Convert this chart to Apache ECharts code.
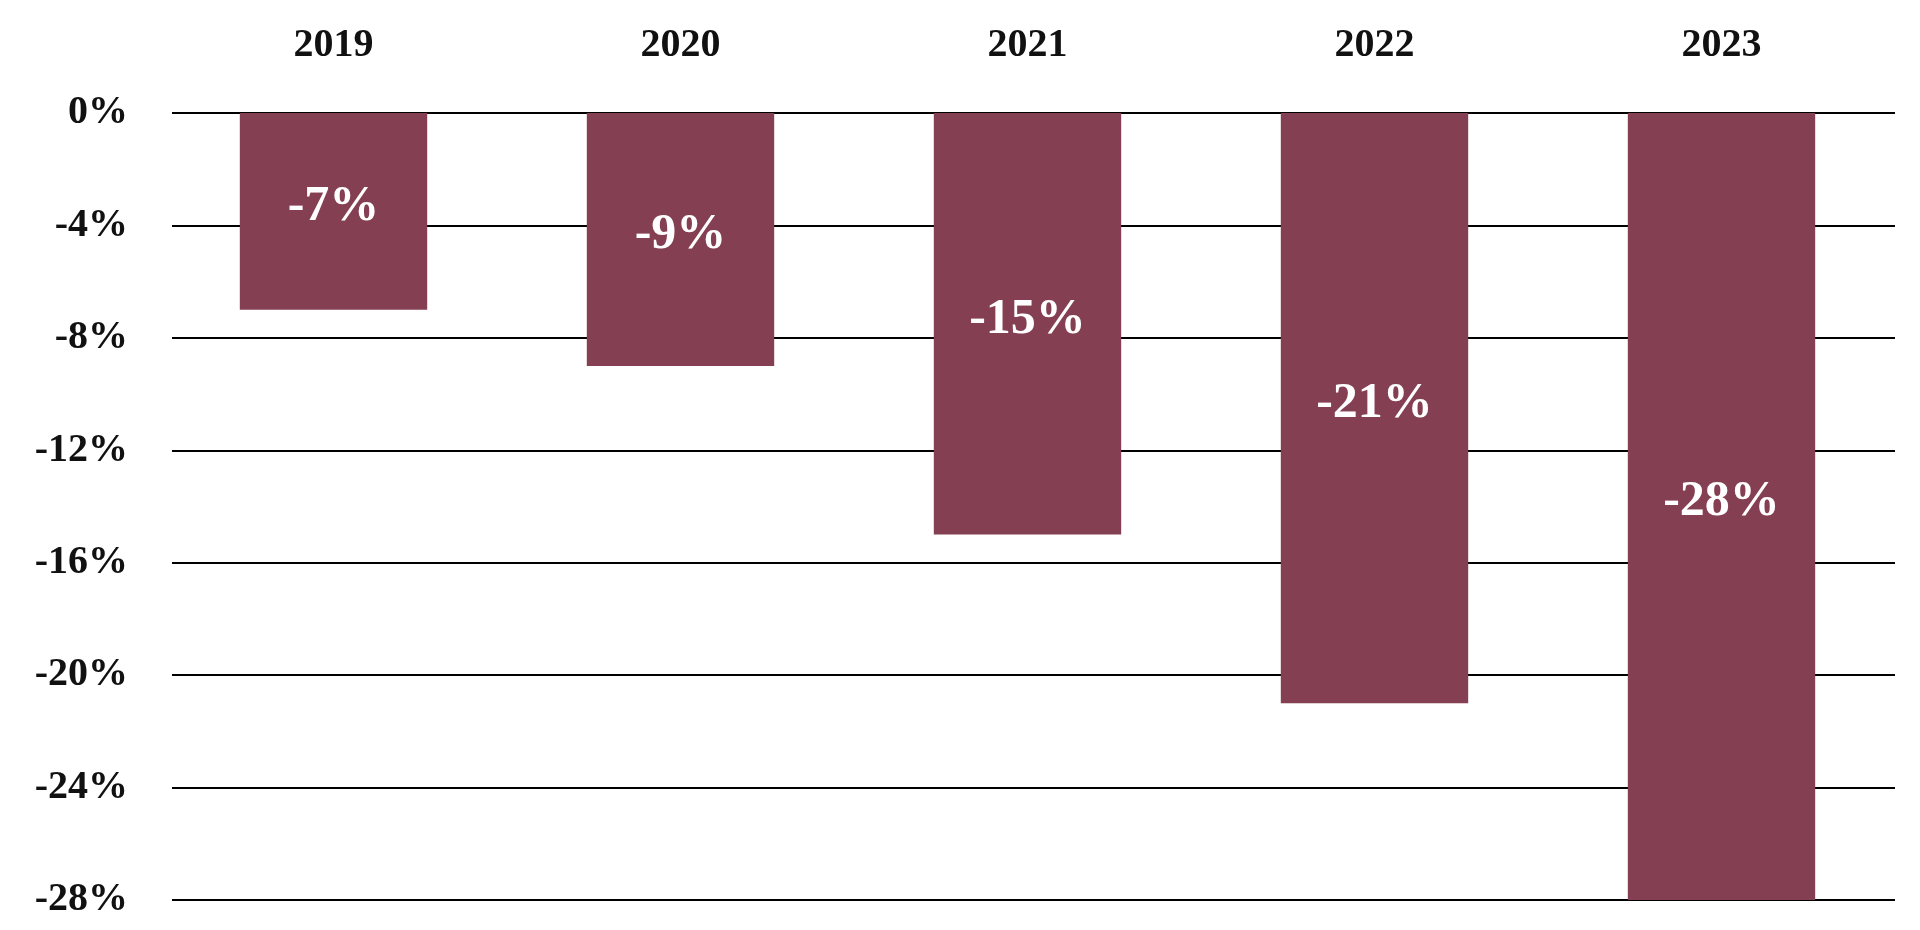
<!DOCTYPE html>
<html>
<head>
<meta charset="utf-8">
<title>Chart</title>
<script src="https://cdn.jsdelivr.net/npm/echarts@6/dist/echarts.min.js"></script>
<style>
  html, body { margin: 0; padding: 0; background: #fff; }
  #chart { width: 1920px; height: 930px; }
</style>
</head>
<body>
<div id="chart"></div>
<script>
// data
const years = ['2019', '2020', '2021', '2022', '2023']
const changes = [-7, -9, -15, -21, -28]
const yMin = -28
const yMax = 0
const yStep = 4

const serif = '"Liberation Serif", "DejaVu Serif", serif'

const myChart = echarts.init(document.getElementById('chart'))
myChart.setOption({
  backgroundColor: '#ffffff',
  animation: false,
  grid: { left: 160, right: 25, top: 113, bottom: 30 },
  xAxis: {
    type: 'category',
    position: 'top',
    data: years,
    axisLine: { show: false },
    axisTick: { show: false },
    axisLabel: {
      margin: 47,
      color: '#111',
      fontFamily: serif,
      fontSize: 40,
      fontWeight: 'bold'
    }
  },
  yAxis: {
    type: 'value',
    min: yMin,
    max: yMax,
    interval: yStep,
    axisLine: { show: false },
    axisTick: { show: false },
    axisLabel: {
      margin: 32,
      color: '#111',
      fontFamily: serif,
      fontSize: 40,
      fontWeight: 'bold',
      formatter: v => v + '%'
    },
    splitLine: { lineStyle: { color: '#000', width: 2 } }
  },
  series: [
    {
      type: 'bar',
      data: changes,
      barWidth: '54%',
      itemStyle: { color: '#853f52' },
      label: {
        show: true,
        position: 'inside',
        offset: [0, -4],
        color: '#fff',
        fontFamily: serif,
        fontSize: 50,
        fontWeight: 'bold',
        formatter: p => p.value + '%'
      }
    }
  ],
  // gridlines in the reference start a little right of the first band
  graphic: [
    { type: 'rect', left: 150, top: 100, shape: { width: 22, height: 810 }, style: { fill: '#fff' }, z: 100 }
  ]
})
</script>
</body>
</html>
